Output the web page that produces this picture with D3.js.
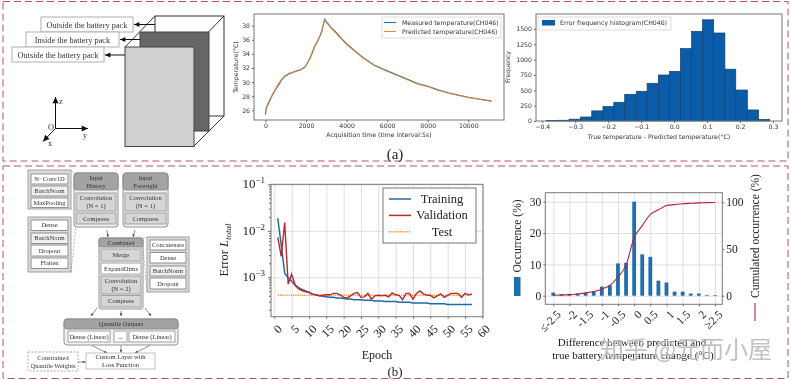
<!DOCTYPE html>
<html>
<head>
<meta charset="utf-8">
<script src="https://cdn.jsdelivr.net/npm/d3@7"></script>
<style>
  body { margin: 0; background: #fff; }
  svg { display: block; filter: blur(0.35px); }
  .mpl text { font-family: "DejaVu Sans", sans-serif; font-size: 6.2px; fill: #333; }
  .tex text { font-family: "Liberation Serif", serif; fill: #222; }
  .net text { font-family: "Liberation Serif", serif; font-size: 6.5px; fill: #333; text-anchor: middle; }
  .box3d text { font-family: "Liberation Serif", serif; font-size: 8.3px; fill: #333; }
</style>
</head>
<body>
<svg id="fig" width="791" height="381"></svg>
<script>
// temperature curve (a, middle)
const tempTime = [0, 20, 50, 120, 295, 450, 620, 800, 950, 1200, 1440, 1700, 1930, 2050, 2180, 2300, 2420, 2550, 2670, 2770, 2835, 2917, 3050, 3250, 3500, 3740, 4050, 4390, 4800, 5370, 6000, 6500, 7000, 7500, 8000, 8500, 9000, 9500, 10000, 10500, 11150];
const tempMeasured = [25.4, 25.9, 26.4, 26.8, 27.9, 28.7, 29.5, 30.3, 30.8, 31.2, 31.5, 31.7, 32.1, 32.6, 33.3, 34.1, 35.0, 35.7, 36.4, 37.1, 37.9, 38.9, 38.4, 37.7, 37.0, 36.2, 35.3, 34.5, 33.5, 32.4, 31.6, 31.0, 30.4, 29.8, 29.4, 28.9, 28.5, 28.15, 27.85, 27.6, 27.3];
const tempPredicted = [25.6, 26.1, 26.5, 27.0, 28.0, 28.8, 29.7, 30.4, 30.9, 31.3, 31.45, 31.75, 32.05, 32.6, 33.2, 34.2, 35.1, 35.8, 36.5, 37.2, 38.0, 38.8, 38.3, 37.6, 36.85, 36.1, 35.2, 34.4, 33.4, 32.35, 31.5, 30.9, 30.3, 29.7, 29.35, 28.85, 28.45, 28.15, 27.8, 27.6, 27.3];
const tempXTicks = [0, 2000, 4000, 6000, 8000, 10000];
const tempYTicks = [26, 28, 30, 32, 34, 36, 38];

// error histogram (a, right)
const histEdges = [-0.387, -0.353, -0.319, -0.284, -0.250, -0.216, -0.183, -0.150, -0.115, -0.082, -0.048, -0.014, 0.019, 0.053, 0.086, 0.120, 0.154, 0.187, 0.222, 0.256, 0.290];
const histCounts = [8, 12, 30, 65, 165, 235, 305, 435, 485, 615, 750, 810, 1180, 1460, 1650, 1435, 845, 505, 180, 25];
const histXTicks = [-0.4, -0.3, -0.2, -0.1, 0.0, 0.1, 0.2, 0.3];
const histYTicks = [0, 250, 500, 750, 1000, 1250, 1500];

// loss curves (b, middle)
const epochs = [1, 2, 3, 4, 5, 6, 7, 8, 9, 10, 11, 12, 13, 14, 15, 16, 17, 18, 19, 20, 21, 22, 23, 24, 25, 26, 27, 28, 29, 30, 31, 32, 33, 34, 35, 36, 37, 38, 39, 40, 41, 42, 43, 44, 45, 46, 47, 48, 49, 50, 51, 52, 53, 54, 55, 56, 57];
const trainLoss = [0.0186, 0.005, 0.00122, 0.00098, 0.00082, 0.00068, 0.0006, 0.00055, 0.00051, 0.00047, 0.00044, 0.00042, 0.0004, 0.00039, 0.00038, 0.00037, 0.00037, 0.00036, 0.00036, 0.00035, 0.00034, 0.00034, 0.00033, 0.00033, 0.00033, 0.00032, 0.00032, 0.00032, 0.00031, 0.00031, 0.00031, 0.0003, 0.0003, 0.0003, 0.0003, 0.00029, 0.00029, 0.00029, 0.00029, 0.00028, 0.00028, 0.00028, 0.00028, 0.00028, 0.00027, 0.00027, 0.00027, 0.00027, 0.00027, 0.00026, 0.00026, 0.00026, 0.00026, 0.00026, 0.00026, 0.00026, 0.00026];
const valLoss = [0.0072, 0.0028, 0.015, 0.00072, 0.00116, 0.00068, 0.00056, 0.00052, 0.00049, 0.00048, 0.00043, 0.00042, 0.0004, 0.00041, 0.00042, 0.00042, 0.00045, 0.00045, 0.00042, 0.00037, 0.00036, 0.0004, 0.00045, 0.00047, 0.00037, 0.00038, 0.00045, 0.00034, 0.0004, 0.00041, 0.0004, 0.00041, 0.00038, 0.00046, 0.00042, 0.00041, 0.00033, 0.00045, 0.00045, 0.00034, 0.00045, 0.00051, 0.00044, 0.00041, 0.00041, 0.00036, 0.0004, 0.00044, 0.00037, 0.00041, 0.00045, 0.00045, 0.00045, 0.00037, 0.00045, 0.00042, 0.00044];
const testEpochs = [1, 57];
const testLoss = [0.00041, 0.00041];
const lossXTicks = [0, 5, 10, 15, 20, 25, 30, 35, 40, 45, 50, 55, 60];
const lossYTicks = [0.1, 0.01, 0.001];
const lossMinorTicks = [0.0002, 0.0003, 0.0004, 0.0005, 0.0006, 0.0007, 0.0008, 0.0009, 0.002, 0.003, 0.004, 0.005, 0.006, 0.007, 0.008, 0.009, 0.02, 0.03, 0.04, 0.05, 0.06, 0.07, 0.08, 0.09];
const lossLegend = ["Training", "Validation", "Test"];

// occurrence chart (b, right)
const occBins = [-2.5, -2.25, -2, -1.75, -1.5, -1.25, -1, -0.75, -0.5, -0.25, 0, 0.25, 0.5, 0.75, 1, 1.25, 1.5, 1.75, 2, 2.25, 2.5];
const occValues = [1, 0.5, 0.6, 0.7, 0.9, 1.4, 2.9, 3.3, 10.3, 10.5, 30, 13.2, 12.4, 4.8, 4.2, 1.3, 1.3, 0.7, 0.7, 0.2, 0.2];
const occCumulated = [0.5, 0.8, 1, 1.8, 3, 4.5, 7, 11, 20, 33, 62, 75, 87, 92, 96.5, 97.5, 98.5, 99, 99.4, 99.6, 99.8];
const occXTicks = [-2.5, -2, -1.5, -1, -0.5, 0, 0.5, 1, 1.5, 2, 2.5];
const occXLabels = ["≤-2.5", "-2", "-1.5", "-1", "-0.5", "0", "0.5", "1", "1.5", "2", "≥2.5"];
const occLeftTicks = [0, 10, 20, 30];
const occRightTicks = [0, 50, 100];

const svg = d3.select("#fig");

// red dashed frames round (a) and (b)
svg.append("rect").attr("x", 3).attr("y", 1.5).attr("width", 785).attr("height", 159.5)
    .attr("fill", "none").attr("stroke", "#b5545c").attr("stroke-dasharray", "7,4");
svg.append("rect").attr("x", 3).attr("y", 166).attr("width", 785).attr("height", 212.5)
    .attr("fill", "none").attr("stroke", "#b5545c").attr("stroke-dasharray", "7,4");

function arrowHead(g, x1, y1, x2, y2, size, color) {
    let a = Math.atan2(y2 - y1, x2 - x1);
    let pts = [[x2, y2],
        [x2 - size * Math.cos(a - 0.45), y2 - size * Math.sin(a - 0.45)],
        [x2 - size * Math.cos(a + 0.45), y2 - size * Math.sin(a + 0.45)]];
    g.append("polygon").attr("points", pts.join(" ")).attr("fill", color);
}

function arrow(g, x1, y1, x2, y2, size, color, width) {
    g.append("line").attr("x1", x1).attr("y1", y1).attr("x2", x2).attr("y2", y2)
        .attr("stroke", color).attr("stroke-width", width);
    arrowHead(g, x1, y1, x2, y2, size, color);
}

// battery pack sketch
function drawBattery() {
    let g = svg.append("g").attr("class", "box3d");
    g.append("rect").attr("x", 155).attr("y", 16).attr("width", 69).attr("height", 100)
        .attr("fill", "#fff").attr("stroke", "#333");
    g.append("line").attr("x1", 125).attr("y1", 47).attr("x2", 155).attr("y2", 16).attr("stroke", "#333");
    g.append("line").attr("x1", 194).attr("y1", 47).attr("x2", 224).attr("y2", 16).attr("stroke", "#333");
    g.append("rect").attr("x", 140).attr("y", 32).attr("width", 69).attr("height", 99)
        .attr("fill", "#666").attr("stroke", "#444");
    g.append("line").attr("x1", 194).attr("y1", 146).attr("x2", 224).attr("y2", 116).attr("stroke", "#333");
    g.append("rect").attr("x", 125).attr("y", 47).attr("width", 69).attr("height", 99.5)
        .attr("fill", "#d0d0d0").attr("stroke", "#444");

    let labels = [["Outside the battery pack", 41, 17, 92, 155, 24.5],
        ["Inside the battery pack", 26, 32, 93, 140, 39.5],
        ["Outside the battery pack", 12, 47, 92, 125, 55]];
    labels.forEach(d => {
        g.append("rect").attr("x", d[1]).attr("y", d[2]).attr("width", d[3]).attr("height", 15)
            .attr("fill", "#fff").attr("stroke", "#b0b0b0");
        g.append("text").attr("x", d[1] + d[3] / 2).attr("y", d[2] + 10.5)
            .attr("text-anchor", "middle").text(d[0]);
        arrow(g, d[4], d[5], d[1] + d[3] + 1, d[5], 6, "#111", 1);
    });

    arrow(g, 55.5, 128.5, 55.5, 97, 7, "#111", 1);
    arrow(g, 55.5, 128.5, 88, 128.5, 7, "#111", 1);
    arrow(g, 55.5, 128.5, 43, 141.5, 7, "#111", 1);
    g.append("text").attr("x", 59).attr("y", 104).text("z");
    g.append("text").attr("x", 83).attr("y", 138).text("y");
    g.append("text").attr("x", 48).attr("y", 146).text("x");
    g.append("text").attr("x", 48).attr("y", 130).text("O");
}
drawBattery();

// temperature line chart
function drawTemperature() {
    let g = svg.append("g").attr("class", "mpl");
    let xScale = d3.scaleLinear().domain([-565, 11760]).range([254, 504]);
    let yScale = d3.scaleLinear().domain([26, 38]).range([110.3, 25.7]);

    g.append("g").attr("transform", "translate(0,120)")
        .call(d3.axisBottom(xScale).tickValues(tempXTicks).tickSize(2).tickPadding(2).tickFormat(d => d))
        .call(a => a.select(".domain").remove());
    g.append("g").attr("transform", "translate(254,0)")
        .call(d3.axisLeft(yScale).tickValues(tempYTicks).tickSize(2).tickPadding(2))
        .call(a => a.select(".domain").remove());
    g.selectAll(".tick text").attr("font-family", null).attr("font-size", null);
    g.selectAll(".tick line").attr("stroke", "#666");

    let line = d3.line().x((d, i) => xScale(tempTime[i])).y(d => yScale(d));
    g.append("path").attr("d", line(tempMeasured)).attr("fill", "none")
        .attr("stroke", "#2c6aa0").attr("stroke-width", 1.1);
    g.append("path").attr("d", line(tempPredicted)).attr("fill", "none")
        .attr("stroke", "#f08a24").attr("stroke-width", 1.3).attr("stroke-opacity", 0.7);

    g.append("rect").attr("x", 254).attr("y", 14).attr("width", 250).attr("height", 106)
        .attr("fill", "none").attr("stroke", "#777");

    g.append("rect").attr("x", 382).attr("y", 17).attr("width", 119).attr("height", 21)
        .attr("fill", "#fff").attr("stroke", "#ddd");
    g.append("line").attr("x1", 384).attr("x2", 396).attr("y1", 22.5).attr("y2", 22.5)
        .attr("stroke", "#2c6aa0").attr("stroke-width", 1.1);
    g.append("line").attr("x1", 384).attr("x2", 396).attr("y1", 31.5).attr("y2", 31.5)
        .attr("stroke", "#f08a24").attr("stroke-width", 1.1);
    g.append("text").attr("x", 402).attr("y", 24.8).text("Measured temperature(CH046)");
    g.append("text").attr("x", 402).attr("y", 33.8).text("Predicted temperature(CH046)");

    g.append("text").attr("x", 379).attr("y", 137).attr("text-anchor", "middle")
        .text("Acquisition time (time interval:5s)");
    g.append("text").attr("transform", "translate(238,67) rotate(-90)").attr("text-anchor", "middle")
        .text("Temperature(°C)");
}
drawTemperature();

// error histogram
function drawHistogram() {
    let g = svg.append("g").attr("class", "mpl");
    let xScale = d3.scaleLinear().domain([-0.4191, 0.3272]).range([536, 782]);
    let yScale = d3.scaleLinear().domain([0, 1500]).range([121, 29]);

    g.append("g").attr("transform", "translate(0,121)")
        .call(d3.axisBottom(xScale).tickValues(histXTicks).tickSize(2).tickPadding(2)
            .tickFormat(d => d3.format(".1f")(d).replace("-", "\u2212")))
        .call(a => a.select(".domain").remove());
    g.append("g").attr("transform", "translate(536,0)")
        .call(d3.axisLeft(yScale).tickValues(histYTicks).tickSize(2).tickPadding(2).tickFormat(d => d))
        .call(a => a.select(".domain").remove());
    g.selectAll(".tick text").attr("font-family", null).attr("font-size", null);
    g.selectAll(".tick line").attr("stroke", "#666");

    g.selectAll("rect.bar").data(histCounts).enter().append("rect").attr("class", "bar")
        .attr("x", (d, i) => xScale(histEdges[i]))
        .attr("width", (d, i) => xScale(histEdges[i + 1]) - xScale(histEdges[i]))
        .attr("y", d => yScale(d))
        .attr("height", d => yScale(0) - yScale(d))
        .attr("fill", "#0b5ca8").attr("stroke", "#143f70").attr("stroke-width", 0.7);

    g.append("rect").attr("x", 536).attr("y", 14).attr("width", 246).attr("height", 107)
        .attr("fill", "none").attr("stroke", "#777");

    g.append("rect").attr("x", 538).attr("y", 17).attr("width", 133).attr("height", 13)
        .attr("fill", "#fff").attr("stroke", "#ddd");
    g.append("rect").attr("x", 542).attr("y", 20).attr("width", 13).attr("height", 5.5)
        .attr("fill", "#0b5ca8");
    g.append("text").attr("x", 560).attr("y", 25.2).text("Error frequency histogram(CH046)");

    g.append("text").attr("x", 659).attr("y", 139).attr("text-anchor", "middle")
        .text("True temperature - Predicted temperature(°C)");
    g.append("text").attr("transform", "translate(510,67) rotate(-90)").attr("text-anchor", "middle")
        .text("Frequency");
}
drawHistogram();

// network diagram
function drawNetwork() {
    let g = svg.append("g").attr("class", "net");

    function box(x, y, w, h, fill, stroke, lines, rx) {
        g.append("rect").attr("x", x).attr("y", y).attr("width", w).attr("height", h).attr("rx", rx || 0)
            .attr("fill", fill).attr("stroke", stroke).attr("stroke-width", 0.9);
        if (lines) {
            lines.forEach((t, i) => {
                let ty = y + h / 2 + 2.2 - (lines.length - 1) * 3.9 + i * 7.8;
                g.append("text").attr("x", x + w / 2).attr("y", ty).text(t);
            });
        }
    }
    function dashed(x1, y1, x2, y2) {
        g.append("line").attr("x1", x1).attr("y1", y1).attr("x2", x2).attr("y2", y2)
            .attr("stroke", "#999").attr("stroke-width", 0.7).attr("stroke-dasharray", "2,1.5");
    }

    // left groups
    box(28, 170, 43, 39, "#dcdcdc", "#999");
    box(31, 174, 37, 10, "#fff", "#888", ["N\u00b7 Conv1D"]);
    box(31, 186, 37, 10, "#f0f0f0", "#888", ["BatchNorm"]);
    box(31, 198, 37, 9.5, "#fff", "#888", ["MaxPooling"]);
    box(28, 217, 43, 55, "#dcdcdc", "#999");
    box(31, 220, 37, 10.5, "#fff", "#888", ["Dense"]);
    box(31, 233, 37, 10.5, "#f0f0f0", "#888", ["BatchNorm"]);
    box(31, 245, 37, 11, "#fff", "#888", ["Dropout"]);
    box(31, 258, 37, 10.5, "#fff", "#888", ["Flatten"]);
    dashed(71, 170, 75, 174);
    dashed(71, 272, 76, 226);

    // inputs
    [[74, 44, ["Input", "History"]], [123, 45, ["Input", "Foresight"]]].forEach(d => {
        box(d[0], 173, d[1], 54, "#f2f2f2", "#888", null, 3);
        box(d[0], 173, d[1], 17, "#a3a3a3", "#888", d[2], 3);
        box(d[0] + 2, 193, d[1] - 4, 18, "#d6d6d6", "#999", ["Convolution", "(N = 1)"]);
        box(d[0] + 2, 213, d[1] - 4, 11, "#d6d6d6", "#999", ["Compress"]);
    });
    arrow(g, 107, 230, 108, 237, 3, "#444", 0.6);
    arrow(g, 135, 230, 133, 237, 3, "#444", 0.6);

    // combined
    box(99, 238, 44, 71, "#f2f2f2", "#888", null, 2);
    box(99, 238, 44, 9, "#a3a3a3", "#888", ["Combined"], 2);
    box(101, 249, 40, 12, "#d6d6d6", "#999", ["Merge"]);
    box(101, 263, 40, 11, "#fff", "#999", ["ExpandDims"]);
    box(101, 276, 40, 18, "#d6d6d6", "#999", ["Convolution", "(N = 2)"]);
    box(101, 295.5, 40, 11.5, "#d6d6d6", "#999", ["Compress"]);

    box(147, 237, 42, 55, "#dcdcdc", "#999");
    box(150, 240, 36, 10, "#fff", "#888", ["Concatenate"]);
    box(150, 252.5, 36, 10.5, "#fff", "#888", ["Dense"]);
    box(150, 266, 36, 10, "#f0f0f0", "#888", ["BatchNorm"]);
    box(150, 278, 36, 11, "#fff", "#888", ["Dropout"]);
    dashed(143, 238, 147, 237);
    dashed(143, 247, 147, 292);

    arrow(g, 97, 308, 91, 316, 3, "#444", 0.6);
    arrow(g, 121, 311, 121, 316, 3, "#444", 0.6);
    arrow(g, 145, 308, 151, 316, 3, "#444", 0.6);

    // outputs
    box(64, 319, 114, 26, "#f2f2f2", "#888", null, 3);
    box(64, 319, 114, 10, "#a3a3a3", "#888", ["Quantile Outputs"], 3);
    box(68, 331, 42, 11, "#fff", "#999", ["Dense (Linear)"]);
    box(114, 331, 13, 11, "#fff", "#999", ["..."]);
    box(129, 331, 46, 11, "#fff", "#999", ["Dense (Linear)"]);

    arrow(g, 92, 345.5, 107, 353, 3, "#444", 0.6);
    arrow(g, 121, 345.5, 121, 352.5, 3, "#444", 0.6);
    arrow(g, 150, 345.5, 135, 353, 3, "#444", 0.6);

    box(86, 353, 69, 16, "#fff", "#bbb", ["Custom Layer with", "Loss Function"]);
    g.append("rect").attr("x", 28).attr("y", 352).attr("width", 50).attr("height", 19)
        .attr("fill", "#fff").attr("stroke", "#888").attr("stroke-width", 0.7).attr("stroke-dasharray", "2,1.5");
    g.append("text").attr("x", 53).attr("y", 360).text("Constrained");
    g.append("text").attr("x", 53).attr("y", 368).text("Quantile Weights");
    arrow(g, 78, 362, 85.5, 362, 3, "#444", 0.6);
}
drawNetwork();

// loss chart
function drawLoss() {
    let g = svg.append("g").attr("class", "tex");
    let xScale = d3.scaleLinear().domain([-0.95, 60.2]).range([271, 483]);
    let yScale = d3.scaleLog().domain([0.000142, 0.1]).range([316.7, 184.3]);

    let grid = g.append("g");
    grid.append("g").attr("transform", "translate(0,316.7)")
        .call(d3.axisBottom(xScale).tickValues(lossXTicks).tickSize(-132.4).tickFormat(""));
    grid.append("g").attr("transform", "translate(271,0)")
        .call(d3.axisLeft(yScale).tickValues(lossYTicks).tickSize(-212).tickFormat(""));
    grid.selectAll(".domain").remove();

    let xAxis = g.append("g").attr("transform", "translate(0,316.7)")
        .call(d3.axisBottom(xScale).tickValues(lossXTicks).tickSize(2));
    xAxis.select(".domain").remove();
    xAxis.selectAll("text").attr("font-family", null).attr("font-size", 12).attr("text-anchor", "end")
        .attr("y", 0).attr("dy", "0.35em").attr("transform", "translate(5,10) rotate(-45)");

    let yMinor = g.append("g").attr("transform", "translate(271,0)")
        .call(d3.axisLeft(yScale).tickValues(lossMinorTicks).tickSize(2).tickFormat(""));
    yMinor.select(".domain").remove();
    let yAxis = g.append("g").attr("transform", "translate(271,0)")
        .call(d3.axisLeft(yScale).tickValues(lossYTicks).tickSize(3).tickFormat(""));
    yAxis.select(".domain").remove();
    g.selectAll(".tick line").attr("stroke", "#666");
    grid.selectAll("line").attr("stroke", "#dedede");

    lossYTicks.forEach(v => {
        let t = g.append("text").attr("x", 265).attr("y", yScale(v) + 4).attr("text-anchor", "end")
            .attr("font-size", 13);
        t.append("tspan").text("10");
        t.append("tspan").attr("font-size", 9).attr("dy", -5).text("\u2212" + Math.round(-Math.log10(v)));
    });

    let line = d3.line().x(d => xScale(d.x)).y(d => yScale(d.y));
    let toPts = (xs, ys) => xs.map((x, i) => ({ x: x, y: ys[i] }));
    g.append("path").attr("d", line(toPts(testEpochs, testLoss))).attr("fill", "none")
        .attr("stroke", "#f0962e").attr("stroke-width", 1.4).attr("stroke-dasharray", "1.2,1");
    g.append("path").attr("d", line(toPts(epochs, trainLoss))).attr("fill", "none")
        .attr("stroke", "#1f6aa5").attr("stroke-width", 1.5);
    g.append("path").attr("d", line(toPts(epochs, valLoss))).attr("fill", "none")
        .attr("stroke", "#c1272d").attr("stroke-width", 1.4);

    g.append("rect").attr("x", 271).attr("y", 184.3).attr("width", 212).attr("height", 132.4)
        .attr("fill", "none").attr("stroke", "#777");

    g.append("rect").attr("x", 383).attr("y", 188).attr("width", 93).attr("height", 55)
        .attr("fill", "#fff").attr("stroke", "#777");
    let legendStyle = [["#1f6aa5", null, 1.5], ["#c1272d", null, 1.5], ["#f0962e", "1.2,1", 1.4]];
    lossLegend.forEach((name, i) => {
        let y = 199 + i * 16.4;
        g.append("line").attr("x1", 389).attr("x2", 411).attr("y1", y).attr("y2", y)
            .attr("stroke", legendStyle[i][0]).attr("stroke-width", legendStyle[i][2])
            .attr("stroke-dasharray", legendStyle[i][1]);
        g.append("text").attr("x", 442).attr("y", y + 4).attr("text-anchor", "middle")
            .attr("font-size", 12.5).text(name);
    });

    g.append("text").attr("x", 377).attr("y", 359).attr("text-anchor", "middle")
        .attr("font-size", 12).text("Epoch");
    let yLabel = g.append("text").attr("transform", "translate(228,250) rotate(-90)")
        .attr("text-anchor", "middle").attr("font-size", 12.5);
    yLabel.append("tspan").text("Error ");
    yLabel.append("tspan").attr("font-style", "italic").text("L");
    yLabel.append("tspan").attr("font-style", "italic").attr("font-size", 9).attr("dy", 2.5).text("total");
}
drawLoss();

// occurrence chart
function drawOccurrence() {
    let g = svg.append("g").attr("class", "tex");
    let xScale = d3.scaleLinear().domain([-2.5, 2.5]).range([553.3, 715]);
    let yLeft = d3.scaleLinear().domain([0, 30]).range([295.7, 201.7]);
    let yRight = d3.scaleLinear().domain([0, 100]).range([295.7, 202.3]);

    let grid = g.append("g");
    grid.append("g").attr("transform", "translate(0,304.3)")
        .call(d3.axisBottom(xScale).tickValues(occXTicks).tickSize(-111.6).tickFormat(""));
    grid.append("g").attr("transform", "translate(545.3,0)")
        .call(d3.axisLeft(yLeft).tickValues(occLeftTicks).tickSize(-177).tickFormat(""));
    grid.selectAll(".domain").remove();

    let xAxis = g.append("g").attr("transform", "translate(0,304.3)")
        .call(d3.axisBottom(xScale).tickValues(occXTicks).tickSize(2)
            .tickFormat((d, i) => occXLabels[i]));
    xAxis.select(".domain").remove();
    xAxis.selectAll("text").attr("font-family", null).attr("font-size", 11.5).attr("text-anchor", "end")
        .attr("y", 0).attr("dy", "0.35em").attr("transform", "translate(5,8) rotate(-45)");

    let left = g.append("g").attr("transform", "translate(545.3,0)")
        .call(d3.axisLeft(yLeft).tickValues(occLeftTicks).tickSize(2).tickPadding(2));
    left.select(".domain").remove();
    left.selectAll("text").attr("font-family", null).attr("font-size", 11.5);
    let right = g.append("g").attr("transform", "translate(722.3,0)")
        .call(d3.axisRight(yRight).tickValues(occRightTicks).tickSize(2).tickPadding(2));
    right.select(".domain").remove();
    right.selectAll("text").attr("font-family", null).attr("font-size", 11.5);
    g.selectAll(".tick line").attr("stroke", "#666");
    grid.selectAll("line").attr("stroke", "#dedede");

    g.selectAll("rect.bar").data(occValues).enter().append("rect").attr("class", "bar")
        .attr("x", (d, i) => xScale(occBins[i]) - 1.9)
        .attr("width", 3.8)
        .attr("y", d => yLeft(d))
        .attr("height", d => yLeft(0) - yLeft(d))
        .attr("fill", "#1f6eb0");

    let line = d3.line().x((d, i) => xScale(occBins[i])).y(d => yRight(d)).curve(d3.curveMonotoneX);
    g.append("path").attr("d", line(occCumulated)).attr("fill", "none")
        .attr("stroke", "#b5213a").attr("stroke-width", 1.1);

    g.append("rect").attr("x", 545.3).attr("y", 192.7).attr("width", 177).attr("height", 111.6)
        .attr("fill", "none").attr("stroke", "#777");

    g.append("text").attr("transform", "translate(521,236) rotate(-90)").attr("text-anchor", "middle")
        .attr("font-size", 11.5).text("Occurrence (%)");
    g.append("rect").attr("x", 514).attr("y", 277).attr("width", 6.5).attr("height", 19).attr("fill", "#1f6eb0");
    g.append("text").attr("transform", "translate(759,236) rotate(-90)").attr("text-anchor", "middle")
        .attr("font-size", 11.5).text("Cumulated occurrence (%)");
    g.append("line").attr("x1", 755).attr("x2", 755).attr("y1", 303).attr("y2", 321)
        .attr("stroke", "#b5213a").attr("stroke-width", 1.1);

    g.append("text").attr("x", 632).attr("y", 346).attr("text-anchor", "middle")
        .attr("font-size", 11).text("Difference between predicted and");
    g.append("text").attr("x", 633).attr("y", 359).attr("text-anchor", "middle")
        .attr("font-size", 11).text("true battery temperature change (°C)");
}
drawOccurrence();

// panel letters and watermark
svg.append("text").attr("x", 395).attr("y", 159).attr("text-anchor", "middle")
    .attr("font-family", "Liberation Serif").attr("font-size", 15).attr("fill", "#222").text("(a)");
svg.append("text").attr("x", 395).attr("y", 376).attr("text-anchor", "middle")
    .attr("font-family", "Liberation Serif").attr("font-size", 13).attr("fill", "#222").text("(b)");
svg.append("text").attr("x", 600).attr("y", 358).attr("font-family", "Noto Sans CJK SC")
    .attr("font-size", 24).attr("fill", "#999").attr("fill-opacity", 0.6)
    .attr("stroke", "#fff").attr("stroke-width", 1).attr("stroke-opacity", 0.7).attr("paint-order", "stroke")
    .text("知乎 @元而小屋");
</script>
</body>
</html>
